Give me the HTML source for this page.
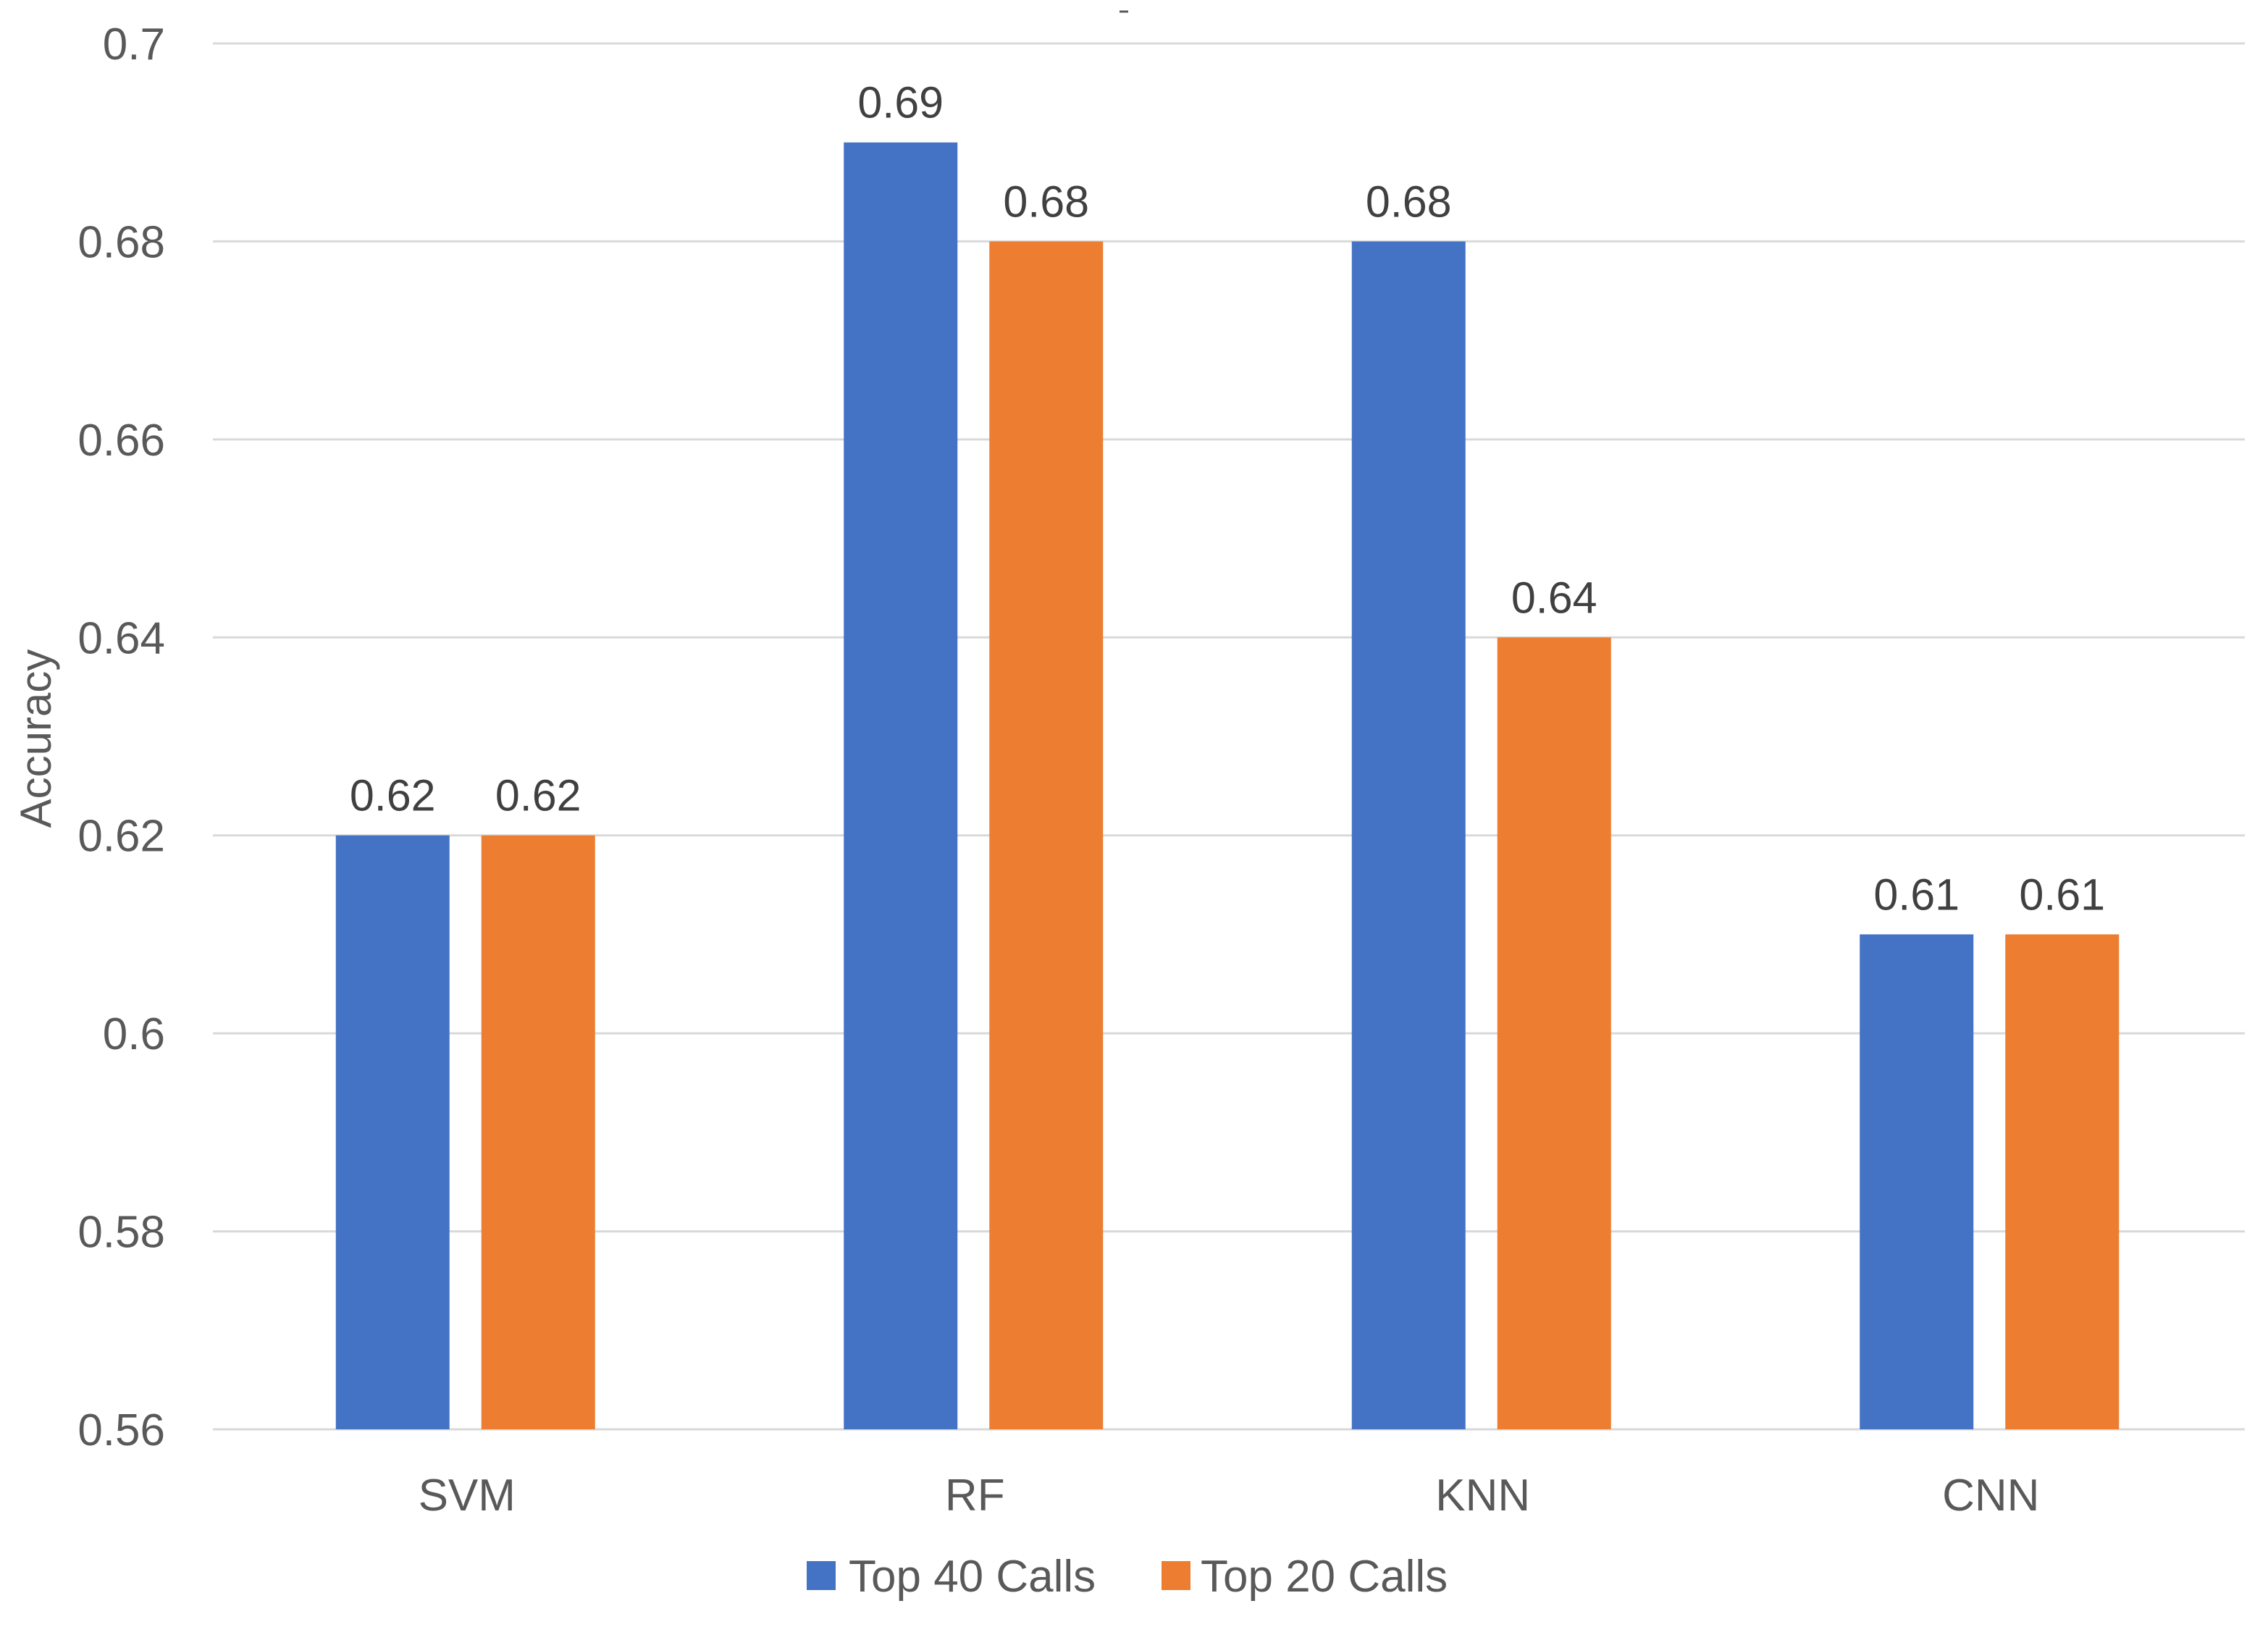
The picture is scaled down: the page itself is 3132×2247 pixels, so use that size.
<!DOCTYPE html>
<html><head><meta charset="utf-8"><style>
body{margin:0;background:#fff;width:3132px;height:2242px;overflow:hidden}
svg{font-family:"Liberation Sans",sans-serif}
</style></head><body>
<svg id="chart" width="3132" height="2242"></svg>
<script>
const categories=["SVM","RF","KNN","CNN"];
const top40=[0.62,0.69,0.68,0.61];
const top20=[0.62,0.68,0.64,0.61];
const ticks=[0.56,0.58,0.6,0.62,0.64,0.66,0.68,0.7];
const tickLabels=["0.56","0.58","0.6","0.62","0.64","0.66","0.68","0.7"];
const svg=document.getElementById('chart');
const NS="http://www.w3.org/2000/svg";
const L=294,R=3100,T=60,B=1974,ymin=0.56,ymax=0.7;
const y=v=>B-(v-ymin)/(ymax-ymin)*(B-T);
const bandW=(R-L)/categories.length;
const cx=i=>L+bandW*(i+0.5);
function mk(tag,attrs,text){const e=document.createElementNS(NS,tag);for(const k in attrs)e.setAttribute(k,attrs[k]);if(text!==undefined)e.textContent=text;svg.appendChild(e);return e;}
ticks.forEach((t,i)=>{
 const g=mk('line',{x1:L,x2:R,y1:y(t),y2:y(t),stroke:'#d9d9d9','stroke-width':3});
 
 
 const tl=mk('text',{x:228,y:y(t)+22,'text-anchor':'end','font-size':62,fill:'#595959'},tickLabels[i]);
 
 
});
const at=mk('text',{x:70,y:1020,'text-anchor':'middle','font-size':60,fill:'#595959',transform:'rotate(-90 70 1020)'},'Accuracy');


const bw=157,off=181;
categories.forEach((c,i)=>{
 [[top40,'#4472c4',-off],[top20,'#ed7d31',-off+bw+44]].forEach(([arr,col,o],s)=>{
  const x0=cx(i)+o,yt=y(arr[i]);
  const r=mk('rect',{x:x0,y:yt,width:bw,height:B-yt,fill:col});
  
  
  const v=mk('text',{x:x0+bw/2,y:yt-34,'text-anchor':'middle','font-size':61,fill:'#404040'},arr[i].toFixed(2));
  
  
 });
 const cl=mk('text',{x:cx(i),y:2086,'text-anchor':'middle','font-size':62,fill:'#595959'},c);
 
 
});
const dash=mk('line',{x1:1546,x2:1558,y1:16,y2:16,stroke:'#595959','stroke-width':3});


const s1=mk('rect',{x:1114,y:2156,width:40,height:40,fill:'#4472c4'});


const t1=mk('text',{x:1172,y:2198,'font-size':62,fill:'#595959'},'Top 40 Calls');


const s2=mk('rect',{x:1604,y:2156,width:40,height:40,fill:'#ed7d31'});


const t2=mk('text',{x:1658,y:2198,'font-size':62,fill:'#595959'},'Top 20 Calls');


</script>
</body></html>
